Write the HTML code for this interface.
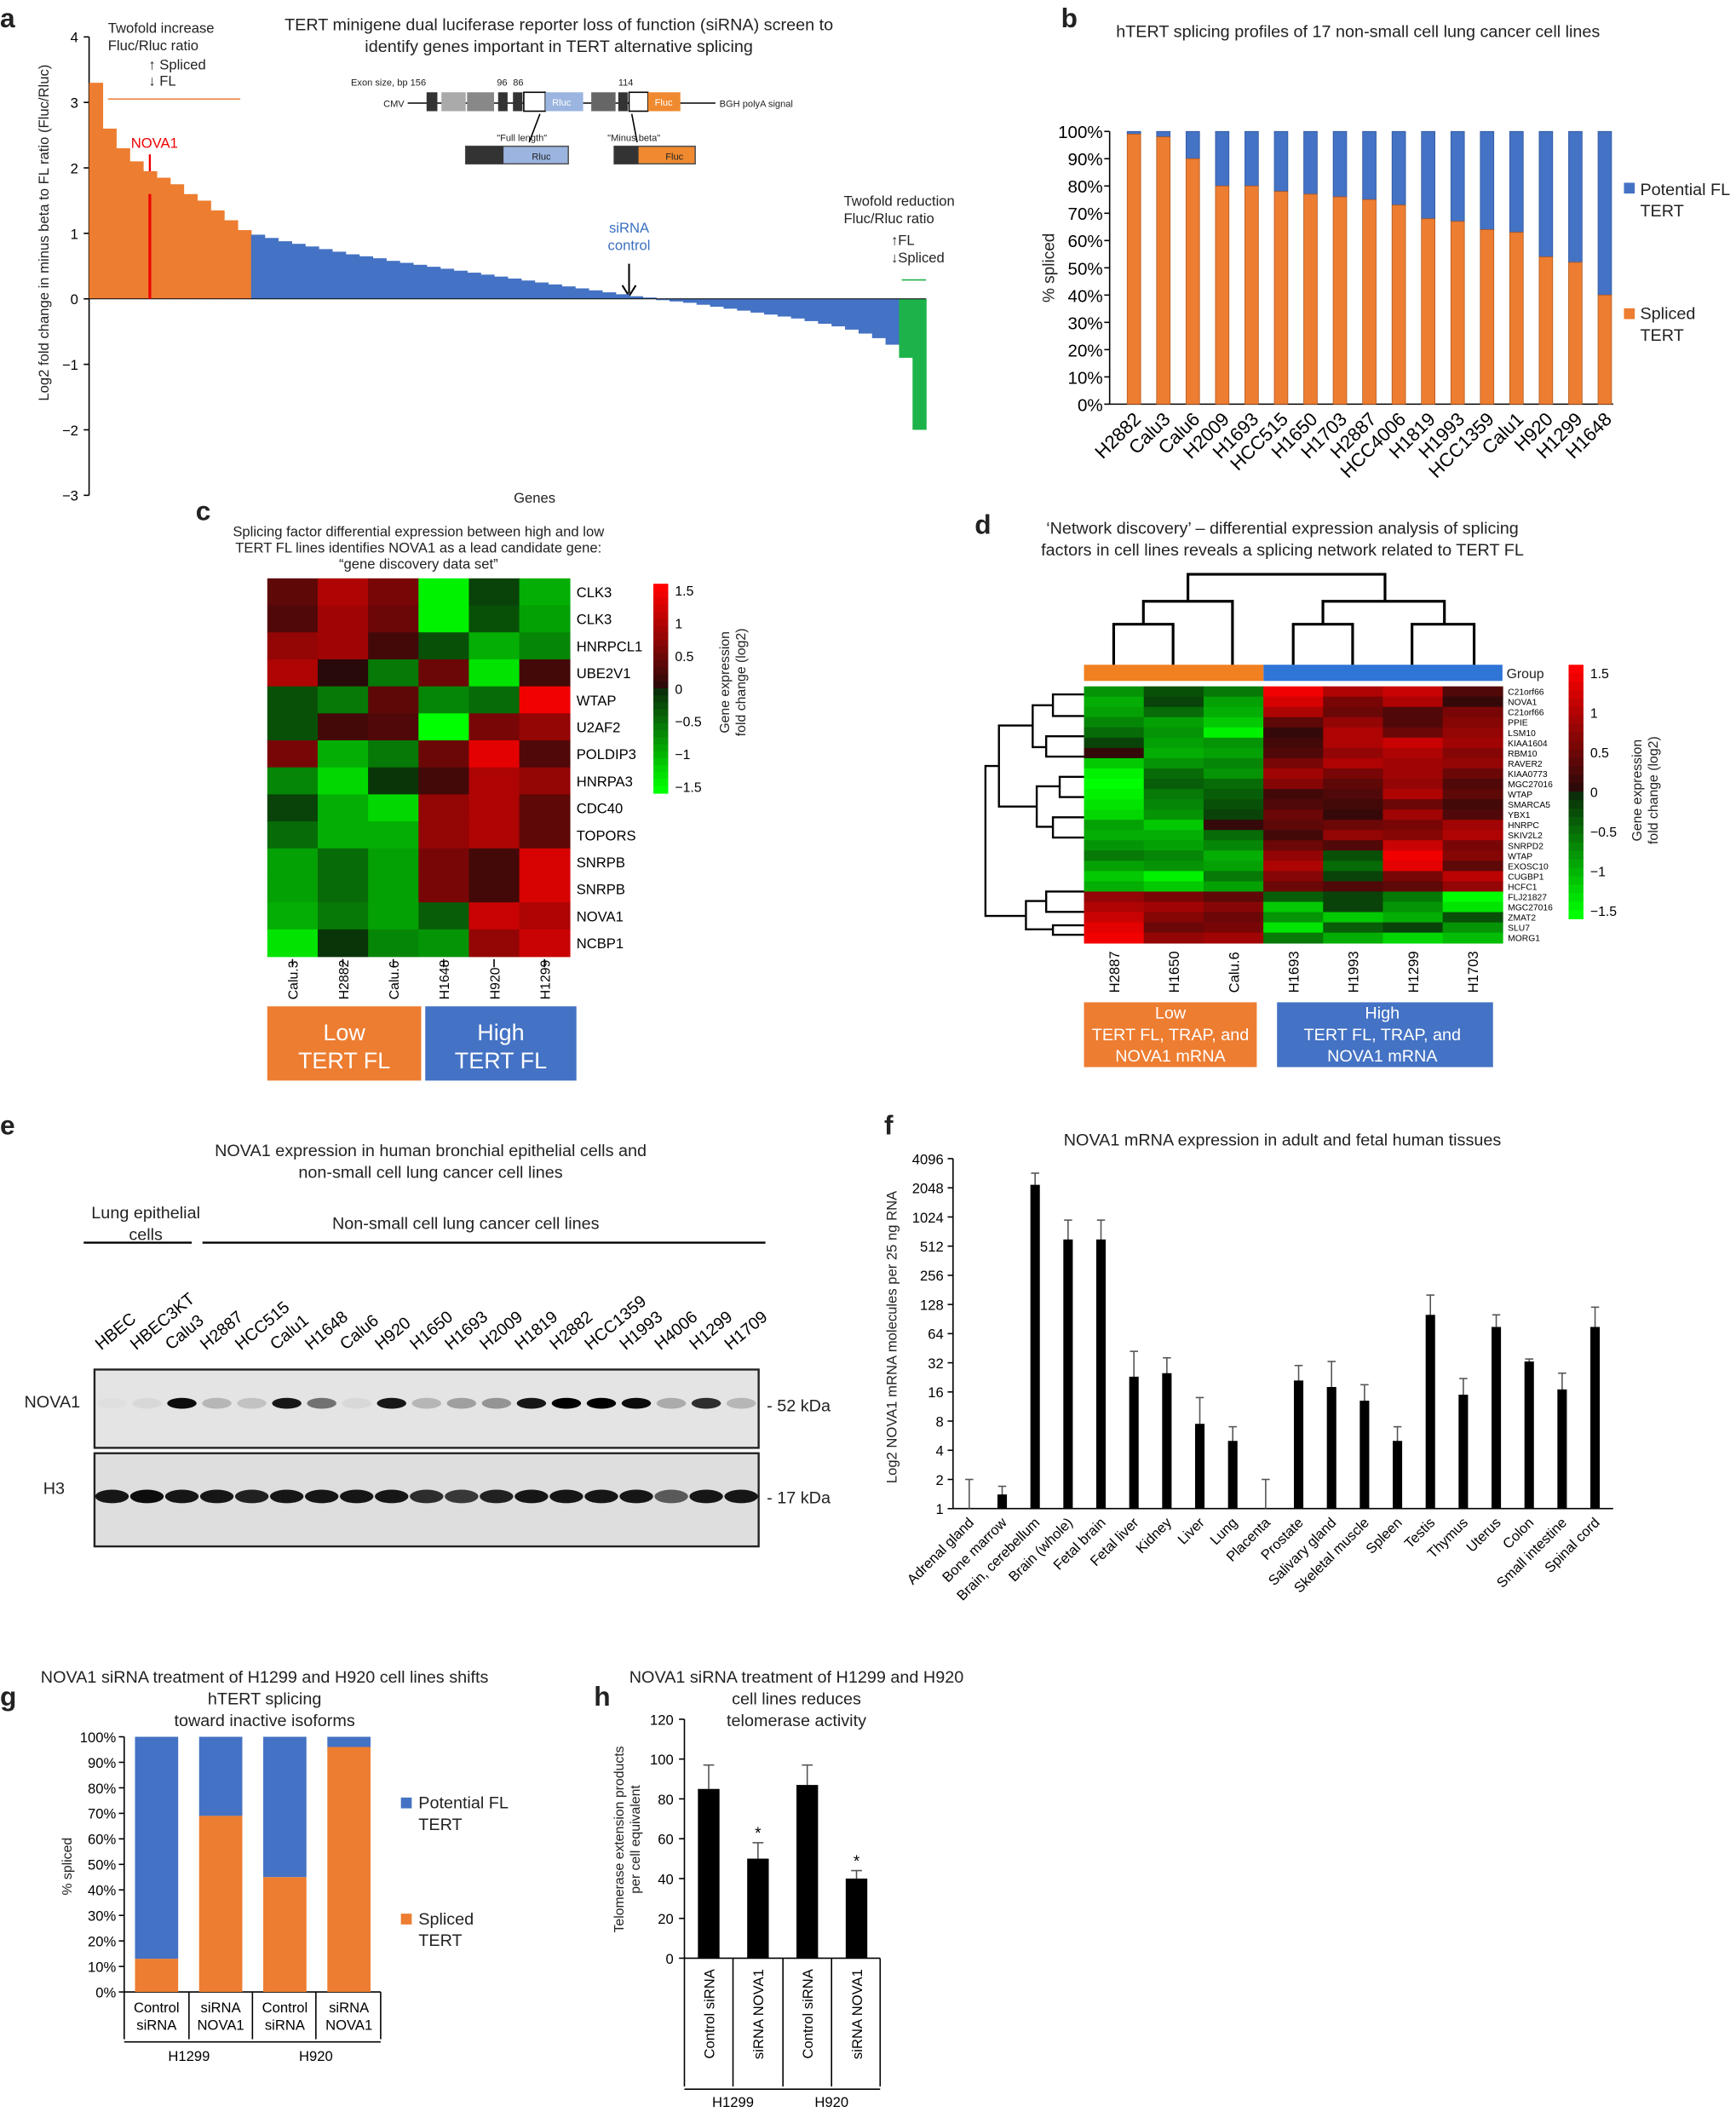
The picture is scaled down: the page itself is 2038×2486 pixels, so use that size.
<!DOCTYPE html>
<html><head><meta charset="utf-8"><style>
html,body{margin:0;padding:0;background:#fff}
svg{display:block;font-family:"Liberation Sans",sans-serif}
</style></head><body>
<svg id="fig" xmlns="http://www.w3.org/2000/svg" width="2038" height="2486" viewBox="0 0 1286 1568">
<rect width="1286" height="1568" fill="#fff"/>
<g id="static" font-size="11" fill="#222">
<text x="0" y="20" font-size="20" font-weight="bold">a</text>
<text x="786" y="20" font-size="20" font-weight="bold">b</text>
<text x="145" y="385" font-size="20" font-weight="bold">c</text>
<text x="722" y="395" font-size="20" font-weight="bold">d</text>
<text x="0" y="840" font-size="20" font-weight="bold">e</text>
<text x="655" y="840" font-size="20" font-weight="bold">f</text>
<text x="0" y="1263" font-size="20" font-weight="bold">g</text>
<text x="440" y="1263" font-size="20" font-weight="bold">h</text>
<text x="414" y="22" text-anchor="middle" font-size="12.5"><tspan x="414">TERT minigene dual luciferase reporter loss of function (siRNA) screen to</tspan><tspan x="414" dy="16">identify genes important in TERT alternative splicing</tspan></text>
<text x="80" y="24" font-size="10.5"><tspan x="80">Twofold increase</tspan><tspan x="80" dy="13">Fluc/Rluc ratio</tspan><tspan x="110" dy="14">↑ Spliced</tspan><tspan x="110" dy="12">↓ FL</tspan></text>
<text x="625" y="152" font-size="10.5"><tspan x="625">Twofold reduction</tspan><tspan x="625" dy="13">Fluc/Rluc ratio</tspan><tspan x="660" dy="16">↑FL</tspan><tspan x="660" dy="13">↓Spliced</tspan></text>
<text x="466" y="172" text-anchor="middle" font-size="10.5" fill="#3a70c0"><tspan x="466">siRNA</tspan><tspan x="466" dy="13">control</tspan></text>
<path d="M466 195 V217" stroke="#000" stroke-width="1.3"/><path d="M461 211 L466 219 L471 211" fill="none" stroke="#000" stroke-width="1.3"/>
<text x="97" y="109" font-size="10.5" fill="#e00">NOVA1</text>
<path d="M111 114 V134" stroke="#e00" stroke-width="1.5"/><path d="M106 128 L111 136 L116 128" fill="none" stroke="#e00" stroke-width="1.5"/>
<text x="396" y="372" text-anchor="middle" font-size="10.5">Genes</text>
<text transform="translate(36,172) rotate(-90)" text-anchor="middle" font-size="10.5">Log2 fold change in minus beta to FL ratio (Fluc/Rluc)</text>
<g font-size="7">
<text x="260" y="63">Exon size, bp 156</text><text x="368" y="63">96</text><text x="380" y="63">86</text><text x="458" y="63">114</text>
<text x="284" y="79">CMV</text><line x1="302" y1="76" x2="530" y2="76" stroke="#000"/>
<rect x="316" y="68" width="8" height="14" fill="#333"/><rect x="327" y="68" width="18" height="14" fill="#aaa"/><rect x="346" y="68" width="20" height="14" fill="#888"/>
<rect x="369" y="68" width="7" height="14" fill="#333"/><rect x="380" y="68" width="7" height="14" fill="#333"/><rect x="388" y="68" width="16" height="14" fill="#fff" stroke="#000"/>
<rect x="404" y="68" width="28" height="14" fill="#9bb5e0"/><text x="409" y="78" fill="#fff">Rluc</text>
<rect x="438" y="68" width="18" height="14" fill="#666"/><rect x="458" y="68" width="7" height="14" fill="#333"/><rect x="466" y="68" width="14" height="14" fill="#fff" stroke="#000"/>
<rect x="480" y="68" width="24" height="14" fill="#f08a30"/><text x="485" y="78" fill="#fff">Fluc</text>
<text x="533" y="79">BGH polyA signal</text>
<text x="368" y="104">"Full length"</text><text x="450" y="104">"Minus beta"</text>
<rect x="345" y="108" width="76" height="13" fill="#9bb5e0" stroke="#555"/><rect x="345" y="108" width="28" height="13" fill="#333"/><text x="394" y="118">Rluc</text>
<rect x="455" y="108" width="60" height="13" fill="#f08a30" stroke="#555"/><rect x="455" y="108" width="18" height="13" fill="#333"/><text x="493" y="118">Fluc</text>
<path d="M400 84 L392 105 M468 84 L472 105" stroke="#000"/>
</g>
<text x="1006" y="27" text-anchor="middle" font-size="12.5">hTERT splicing profiles of 17 non-small cell lung cancer cell lines</text>
<text transform="translate(781,198) rotate(-90)" text-anchor="middle" font-size="12">% spliced</text>
<rect x="1203" y="135" width="8" height="8" fill="#4472c4"/><text x="1215" y="144" font-size="12.5"><tspan x="1215">Potential FL</tspan><tspan x="1215" dy="16">TERT</tspan></text>
<rect x="1203" y="228" width="8" height="8" fill="#ed7d31"/><text x="1215" y="236" font-size="12.5"><tspan x="1215">Spliced</tspan><tspan x="1215" dy="16">TERT</tspan></text>
<text x="310" y="397" text-anchor="middle" font-size="10.5"><tspan x="310">Splicing factor differential expression between high and low</tspan><tspan x="310" dy="12">TERT FL lines identifies NOVA1 as a lead candidate gene:</tspan><tspan x="310" dy="12">“gene discovery data set”</tspan></text>
<rect x="198" y="745" width="114" height="55" fill="#ed7d31"/>
<text x="255" y="770" text-anchor="middle" fill="#fff" font-size="17"><tspan x="255">Low</tspan><tspan x="255" dy="21">TERT FL</tspan></text>
<rect x="315" y="745" width="112" height="55" fill="#4472c4"/>
<text x="371" y="770" text-anchor="middle" fill="#fff" font-size="17"><tspan x="371">High</tspan><tspan x="371" dy="21">TERT FL</tspan></text>
<text transform="translate(540,505) rotate(-90)" text-anchor="middle" font-size="10"><tspan x="0">Gene expression</tspan><tspan x="0" dy="12">fold change (log2)</tspan></text>
<text x="950" y="395" text-anchor="middle" font-size="12.5"><tspan x="950">‘Network discovery’ – differential expression analysis of splicing</tspan><tspan x="950" dy="16">factors in cell lines reveals a splicing network related to TERT FL</tspan></text>
<rect x="803" y="492" width="133" height="12" fill="#f08020"/>
<rect x="936" y="492" width="177" height="12" fill="#2f75d6"/>
<text x="1116" y="502" font-size="10">Group</text>
<path d="M825 492 V462 H869 V492 M847 462 V445 H913 V492 M880 445 V425 H1026 V445 M958 492 V462 H1002 V492 M980 462 V445 H1070 V462 H1046 V492 M1070 462 H1092 V492" fill="none" stroke="#000" stroke-width="2"/>
<path d="M803 514 H780 V530 H803 M803 545 H775 V560 H803 M780 522 H765 V553 H775 M803 575 H785 V590 H803 M803 605 H780 V620 H803 M785 582 H768 V612 H780 M765 537 H740 V597 H768 M803 660 H775 V675 H803 M803 685 H780 V692 H803 M775 667 H760 V688 H780 M740 567 H730 V678 H760" fill="none" stroke="#000" stroke-width="1.5"/>
<rect x="803" y="742" width="128" height="48" fill="#ed7d31"/>
<text x="867" y="754" text-anchor="middle" fill="#fff" font-size="12.5"><tspan x="867">Low</tspan><tspan x="867" dy="16">TERT FL, TRAP, and</tspan><tspan x="867" dy="16">NOVA1 mRNA</tspan></text>
<rect x="946" y="742" width="160" height="48" fill="#4472c4"/>
<text x="1024" y="754" text-anchor="middle" fill="#fff" font-size="12.5"><tspan x="1024">High</tspan><tspan x="1024" dy="16">TERT FL, TRAP, and</tspan><tspan x="1024" dy="16">NOVA1 mRNA</tspan></text>
<text transform="translate(1216,585) rotate(-90)" text-anchor="middle" font-size="10"><tspan x="0">Gene expression</tspan><tspan x="0" dy="12">fold change (log2)</tspan></text>
<text x="319" y="856" text-anchor="middle" font-size="12.5"><tspan x="319">NOVA1 expression in human bronchial epithelial cells and</tspan><tspan x="319" dy="16">non-small cell lung cancer cell lines</tspan></text>
<text x="108" y="902" text-anchor="middle" font-size="12.5"><tspan x="108">Lung epithelial</tspan><tspan x="108" dy="16">cells</tspan></text>
<line x1="62" y1="920" x2="142" y2="920" stroke="#000" stroke-width="1.5"/>
<text x="345" y="910" text-anchor="middle" font-size="12.5">Non-small cell lung cancer cell lines</text>
<line x1="150" y1="920" x2="567" y2="920" stroke="#000" stroke-width="1.5"/>
<text x="18" y="1042" font-size="12.5">NOVA1</text>
<text x="32" y="1106" font-size="12.5">H3</text>
<text x="568" y="1045" font-size="12.5">- 52 kDa</text>
<text x="568" y="1113" font-size="12.5">- 17 kDa</text>
<text x="950" y="848" text-anchor="middle" font-size="12.5">NOVA1 mRNA expression in adult and fetal human tissues</text>
<text transform="translate(664,990) rotate(-90)" text-anchor="middle" font-size="10.5">Log2 NOVA1 mRNA molecules per 25 ng RNA</text>
<text x="196" y="1246" text-anchor="middle" font-size="12.5"><tspan x="196">NOVA1 siRNA treatment of H1299 and H920 cell lines shifts</tspan><tspan x="196" dy="16">hTERT splicing</tspan><tspan x="196" dy="16">toward inactive isoforms</tspan></text>
<text transform="translate(53,1382) rotate(-90)" text-anchor="middle" font-size="10">% spliced</text>
<rect x="297" y="1331" width="8" height="8" fill="#4472c4"/><text x="310" y="1339" font-size="12.5"><tspan x="310">Potential FL</tspan><tspan x="310" dy="16">TERT</tspan></text>
<rect x="297" y="1417" width="8" height="8" fill="#ed7d31"/><text x="310" y="1425" font-size="12.5"><tspan x="310">Spliced</tspan><tspan x="310" dy="16">TERT</tspan></text>
<text x="590" y="1246" text-anchor="middle" font-size="12.5"><tspan x="590">NOVA1 siRNA treatment of H1299 and H920</tspan><tspan x="590" dy="16">cell lines reduces</tspan><tspan x="590" dy="16">telomerase activity</tspan></text>
<text transform="translate(462,1362) rotate(-90)" text-anchor="middle" font-size="10"><tspan x="0">Telomerase extension products</tspan><tspan x="0" dy="12">per cell equivalent</tspan></text>
</g>
<g id="dyn"></g>
</svg>
<script>
// ---- data ----
const aValues=[3.3,2.6,2.3,2.1,1.95,1.85,1.75,1.6,1.5,1.35,1.2,1.05,0.98,0.93,0.88,0.84,0.8,0.76,0.72,0.68,0.65,0.62,0.58,0.55,0.52,0.49,0.46,0.43,0.40,0.37,0.34,0.31,0.28,0.25,0.22,0.19,0.16,0.13,0.10,0.07,0.04,0.02,-0.02,-0.04,-0.06,-0.09,-0.12,-0.15,-0.18,-0.21,-0.24,-0.27,-0.3,-0.34,-0.38,-0.42,-0.47,-0.53,-0.6,-0.7,-0.9,-2.0];
const aTicks=[4,3,2,1,0,-1,-2,-3];
const bLines=["H2882","Calu3","Calu6","H2009","H1693","HCC515","H1650","H1703","H2887","HCC4006","H1819","H1993","HCC1359","Calu1","H920","H1299","H1648"];
const bSpliced=[99,98,90,80,80,78,77,76,75,73,68,67,64,63,54,52,40];
const pctTicks=["0%","10%","20%","30%","40%","50%","60%","70%","80%","90%","100%"];
const cGenes=["CLK3","CLK3","HNRPCL1","UBE2V1","WTAP","U2AF2","POLDIP3","HNRPA3","CDC40","TOPORS","SNRPB","SNRPB","NOVA1","NCBP1"];
const cLines=["Calu.3","H2882","Calu.6","H1648","H920","H1299"];
const cValues=[[0.4,1.0,0.6,-1.5,-0.2,-1.0],[0.3,0.9,0.5,-1.5,-0.3,-0.9],[0.8,0.9,0.2,-0.3,-1.0,-0.7],[1.0,0,-0.6,0.5,-1.4,0.2],[-0.3,-0.6,0.4,-0.7,-0.5,1.5],[-0.3,0.2,0.3,-1.6,0.6,0.8],[0.6,-1.0,-0.6,0.5,1.4,0.3],[-0.7,-1.3,-0.1,0.2,1.0,0.8],[-0.2,-1.0,-1.3,0.8,1.0,0.4],[-0.5,-1.0,-1.0,0.8,1.0,0.4],[-0.9,-0.5,-0.9,0.6,0.2,1.3],[-0.9,-0.5,-0.9,0.6,0.2,1.3],[-1.0,-0.6,-0.9,-0.4,1.2,1.0],[-1.4,-0.1,-0.7,-0.8,0.8,1.2]];
const cbTicks=[1.5,1,0.5,0,-0.5,-1,-1.5];
const dGenes=["C21orf66","NOVA1","C21orf66","PPIE","LSM10","KIAA1604","RBM10","RAVER2","KIAA0773","MGC27016","WTAP","SMARCA5","YBX1","HNRPC","SKIV2L2","SNRPD2","WTAP","EXOSC10","CUGBP1","HCFC1","FLJ21827","MGC27016","ZMAT2","SLU7","MORG1"];
const dLines=["H2887","H1650","Calu.6","H1693","H1993","H1299","H1703"];
const dValues=[[-0.8,-0.3,-0.6,1.5,1.0,1.2,0.3],[-1.0,-0.2,-0.9,1.3,0.6,1.0,0.1],[-0.9,-0.5,-1.0,1.0,0.5,0.3,0.6],[-0.7,-0.9,-1.2,0.4,0.8,0.3,0.7],[-0.5,-0.8,-1.5,0.1,1.0,0.5,0.8],[-0.2,-0.9,-0.8,0.2,1.0,1.2,0.9],[0.1,-1.0,-0.9,0.3,0.8,1.0,0.7],[-1.2,-0.8,-0.7,0.6,1.0,0.9,0.8],[-1.5,-0.5,-0.8,0.9,0.6,0.9,0.5],[-1.6,-0.4,-0.5,0.7,0.4,0.8,0.3],[-1.5,-0.6,-0.4,0.2,0.3,1.0,0.4],[-1.4,-0.7,-0.3,0.3,0.2,0.5,0.2],[-1.3,-0.8,-0.2,0.5,0.1,0.9,0.3],[-0.9,-1.2,0.1,0.4,0.5,0.6,0.9],[-1.0,-1.0,-0.5,0.2,0.8,0.7,1.0],[-0.8,-0.9,-0.7,0.5,0.3,1.2,0.6],[-0.6,-0.7,-1.0,0.8,-0.3,1.5,0.7],[-0.9,-0.8,-0.9,1.0,-0.5,1.4,0.4],[-1.2,-1.5,-0.6,0.7,-0.2,0.6,1.1],[-1.0,-1.2,-0.9,0.5,0.3,0.4,0.8],[0.8,0.6,0.4,-0.4,-0.2,-0.6,-1.6],[1.0,0.9,0.7,-1.2,-0.2,-0.8,-1.4],[1.2,0.7,0.5,-0.8,-1.2,-1.0,-0.3],[1.4,0.5,0.6,-1.4,-0.4,-0.2,-0.8],[1.5,0.8,0.9,-0.6,-1.0,-1.3,-1.1]];
const eLanes=["HBEC","HBEC3KT","Calu3","H2887","HCC515","Calu1","H1648","Calu6","H920","H1650","H1693","H2009","H1819","H2882","HCC1359","H1993","H4006","H1299","H1709"];
const eNova1=[0.02,0.05,0.95,0.2,0.15,0.9,0.5,0.05,0.9,0.2,0.3,0.35,0.9,1,1,0.95,0.25,0.8,0.2];
const eH3=[0.9,0.95,0.9,0.9,0.85,0.9,0.9,0.9,0.9,0.8,0.75,0.85,0.9,0.9,0.9,0.9,0.6,0.9,0.9];
const fTissues=["Adrenal gland","Bone marrow","Brain, cerebellum","Brain (whole)","Fetal brain","Fetal liver","Kidney","Liver","Lung","Placenta","Prostate","Salivary gland","Skeletal muscle","Spleen","Testis","Thymus","Uterus","Colon","Small intestine","Spinal cord"];
const fValues=[1,1.4,2200,600,600,23,25,7.5,5,1,21,18,13,5,100,15,75,33,17,75];
const fErrHigh=[2,1.7,2900,950,950,42,36,14,7,2,30,33,19,7,160,22,100,35,25,120];
const fTicks=[1,2,4,8,16,32,64,128,256,512,1024,2048,4096];
const gLabels=[["Control","siRNA"],["siRNA","NOVA1"],["Control","siRNA"],["siRNA","NOVA1"]];
const gSpliced=[13,69,45,96];
const hLabels=["Control siRNA","siRNA NOVA1","Control siRNA","siRNA NOVA1"];
const hValues=[85,50,87,40];
const hErr=[12,8,10,4];
const hSig=[false,true,false,true];
const hTicks=[0,20,40,60,80,100,120];

const NS="http://www.w3.org/2000/svg";
const root=document.getElementById('dyn');
function E(tag,attrs,parent){const el=document.createElementNS(NS,tag);for(const k in attrs)el.setAttribute(k,attrs[k]);(parent||root).appendChild(el);return el;}
function heat(v){const t=Math.max(-1,Math.min(1,v/1.6));if(t>=0)return `rgb(${Math.round(40+215*t)},${Math.round(10*(1-t))},${Math.round(10*(1-t))})`;return `rgb(${Math.round(10*(1+t))},${Math.round(40-215*t)},${Math.round(10*(1+t))})`;}
let el;

// ---- panel a ----
const aY=v=>221-v*48.5, aX0=66, aBW=620/aValues.length;
el=E('line',{x1:66,y1:aY(4),x2:66,y2:aY(-3),stroke:'#000'});


aTicks.forEach(t=>{E('line',{x1:62,y1:aY(t),x2:66,y2:aY(t),stroke:'#000'});
 el=E('text',{x:58,y:aY(t)+4,'text-anchor':'end','font-size':10.5});el.textContent=(t<0?'−'+(-t):t);
 
 });
aValues.forEach((v,i)=>{const c=v>1?'#ed7d31':(v<-0.8?'#1db34a':'#4472c4');
 el=E('rect',{x:aX0+i*aBW,y:Math.min(aY(v),aY(0)),width:aBW+0.4,height:Math.abs(aY(v)-aY(0)),fill:c});
 
 });
E('line',{x1:66,y1:aY(0),x2:686,y2:aY(0),stroke:'#000','stroke-width':0.6});
el=E('line',{x1:111,y1:aY(0),x2:111,y2:aY(1.6),stroke:'#e00','stroke-width':2});


E('line',{x1:80,y1:73,x2:178,y2:73,stroke:'#ed7d31'});
E('line',{x1:668,y1:207,x2:686,y2:207,stroke:'#1db34a'});

// ---- panel b ----
const bY=p=>299-p*2.02, bX=i=>840+i*21.8;
E('line',{x1:822,y1:bY(0),x2:822,y2:bY(100),stroke:'#000'});
E('line',{x1:822,y1:bY(0),x2:1195,y2:bY(0),stroke:'#000'});
pctTicks.forEach((t,i)=>{E('line',{x1:818,y1:bY(i*10),x2:822,y2:bY(i*10),stroke:'#000'});
 el=E('text',{x:817,y:bY(i*10)+5,'text-anchor':'end','font-size':13});el.textContent=t;
 
 });
bLines.forEach((n,i)=>{const x=bX(i);
 el=E('rect',{x:x-5,y:bY(100),width:10,height:bY(bSpliced[i])-bY(100),fill:'#4472c4',stroke:'#2e55a0','stroke-width':0.5});
 
 
 el=E('rect',{x:x-5,y:bY(bSpliced[i]),width:10,height:bY(0)-bY(bSpliced[i]),fill:'#ed7d31',stroke:'#b0581e','stroke-width':0.5});
 
 
 el=E('text',{transform:`translate(${x+6},${bY(0)+12}) rotate(-45)`,'text-anchor':'end','font-size':14});el.textContent=n;
 
 });

// ---- panel c heatmap ----
const cX0=198,cY0=428,cW=224/6,cH=280/14;
cValues.forEach((row,r)=>row.forEach((v,c)=>{el=E('rect',{x:cX0+c*cW,y:cY0+r*cH,width:cW+0.5,height:cH+0.5,fill:heat(v)});
 
 }));
cGenes.forEach((g,r)=>{el=E('text',{x:427,y:cY0+r*cH+cH/2+4,'font-size':10.5});el.textContent=g;
 
 });
cLines.forEach((n,c)=>{const x=cX0+c*cW+cW/2;E('line',{x1:x,y1:710,x2:x,y2:716,stroke:'#000'});
 el=E('text',{transform:`translate(${x+4},740) rotate(-90)`,'font-size':10});el.textContent=n;
 
 });
function colorbar(x,y,h,name){const n=30;for(let i=0;i<n;i++){E('rect',{x:x,y:y+i*h/n,width:11,height:h/n+0.5,fill:heat(1.6-3.2*i/(n-1))});}
 cbTicks.forEach(t=>{el=E('text',{x:x+16,y:y+(1.6-t)/3.2*h+4,'font-size':10});el.textContent=(t<0?'−'+(-t):t);
 
 });}
colorbar(484,432,155,'colorbar-c');

// ---- panel d heatmap ----
const dX0=803,dY0=508,dW=310/7,dH=190/dGenes.length;
dValues.forEach((row,r)=>row.forEach((v,c)=>{el=E('rect',{x:dX0+c*dW,y:dY0+r*dH,width:dW+0.5,height:dH+0.5,fill:heat(v)});
 
 }));
dGenes.forEach((g,r)=>{el=E('text',{x:1117,y:dY0+r*dH+dH/2+2.5,'font-size':6.5});el.textContent=g;
 
 });
dLines.forEach((n,c)=>{const x=dX0+c*dW+dW/2;
 el=E('text',{transform:`translate(${x+4},735) rotate(-90)`,'font-size':10.5});el.textContent=n;
 
 });
colorbar(1162,492,188,'colorbar-d');

// ---- panel e blot ----
const eX0=70,eW=492/eLanes.length;
el=E('rect',{x:70,y:1014,width:492,height:58,fill:'#e4e4e4',stroke:'#222','stroke-width':1.5});


el=E('rect',{x:70,y:1076,width:492,height:69,fill:'#dedede',stroke:'#222','stroke-width':1.5});


eLanes.forEach((n,i)=>{const x=eX0+i*eW+eW/2;
 el=E('ellipse',{cx:x,cy:1039,rx:eW*0.42,ry:4,fill:'#000',opacity:eNova1[i]});
 
 
 el=E('ellipse',{cx:x,cy:1108,rx:eW*0.48,ry:5,fill:'#000',opacity:eH3[i]});
 
 
 el=E('text',{transform:`translate(${x-8},${1000}) rotate(-40)`,'font-size':12.5});el.textContent=n;
 
 });

// ---- panel f ----
const fY=v=>1117-Math.log2(Math.max(v,1))*21.6, fX=i=>718+i*24.4;
E('line',{x1:706,y1:fY(4096),x2:706,y2:1117,stroke:'#000'});
E('line',{x1:706,y1:1117,x2:1195,y2:1117,stroke:'#000'});
fTicks.forEach(t=>{E('line',{x1:702,y1:fY(t),x2:706,y2:fY(t),stroke:'#000'});
 el=E('text',{x:699,y:fY(t)+4,'text-anchor':'end','font-size':10.5});el.textContent=t;
 
 });
fTissues.forEach((n,i)=>{const x=fX(i),v=fValues[i],h=fErrHigh[i];
 const lo=Math.max(1,v*v/h);
 el=E('line',{x1:x,y1:fY(h),x2:x,y2:fY(lo),stroke:'#555','stroke-width':1});
 
 
 E('line',{x1:x-3,y1:fY(h),x2:x+3,y2:fY(h),stroke:'#555'});
 el=E('rect',{x:x-3.5,y:fY(v),width:7,height:1117-fY(v),fill:'#000'});
 
 
 el=E('text',{transform:`translate(${x+4},${1128}) rotate(-45)`,'text-anchor':'end','font-size':10.5});el.textContent=n;
 
 });

// ---- panel g ----
const gY=p=>1475-p*1.89, gX=i=>116+i*47.5;
E('line',{x1:92,y1:gY(0),x2:92,y2:gY(100),stroke:'#000'});
E('line',{x1:92,y1:gY(0),x2:282,y2:gY(0),stroke:'#000'});
pctTicks.forEach((t,i)=>{E('line',{x1:88,y1:gY(i*10),x2:92,y2:gY(i*10),stroke:'#000'});
 el=E('text',{x:86,y:gY(i*10)+4,'text-anchor':'end','font-size':10.5});el.textContent=t;
 
 });
gSpliced.forEach((s,i)=>{const x=gX(i);
 el=E('rect',{x:x-16,y:gY(100),width:32,height:gY(s)-gY(100),fill:'#4472c4'});
 
 
 el=E('rect',{x:x-16,y:gY(s),width:32,height:gY(0)-gY(s),fill:'#ed7d31'});
 
 
 el=E('text',{x:x,y:1490,'text-anchor':'middle','font-size':10.5});el.innerHTML=`<tspan x="${x}">${gLabels[i][0]}</tspan><tspan x="${x}" dy="13">${gLabels[i][1]}</tspan>`;
 
 });
[92,140,187,234,282].forEach(x=>E('line',{x1:x,y1:1475,x2:x,y2:1510,stroke:'#000'}));
E('line',{x1:92,y1:1512,x2:282,y2:1512,stroke:'#000'});
el=E('text',{x:140,y:1526,'text-anchor':'middle','font-size':10.5});el.textContent='H1299';


el=E('text',{x:234,y:1526,'text-anchor':'middle','font-size':10.5});el.textContent='H920';



// ---- panel h ----
const hY=v=>1450-v*1.475, hX=i=>525+i*36.5;
E('line',{x1:507,y1:hY(0),x2:507,y2:hY(120),stroke:'#000'});
E('line',{x1:507,y1:hY(0),x2:652,y2:hY(0),stroke:'#000'});
hTicks.forEach(t=>{E('line',{x1:503,y1:hY(t),x2:507,y2:hY(t),stroke:'#000'});
 el=E('text',{x:499,y:hY(t)+4,'text-anchor':'end','font-size':10.5});el.textContent=t;
 
 });
hValues.forEach((v,i)=>{const x=hX(i);
 el=E('line',{x1:x,y1:hY(v+hErr[i]),x2:x,y2:hY(v),stroke:'#555'});
 
 
 E('line',{x1:x-4,y1:hY(v+hErr[i]),x2:x+4,y2:hY(v+hErr[i]),stroke:'#555'});
 el=E('rect',{x:x-8,y:hY(v),width:16,height:hY(0)-hY(v),fill:'#000'});
 
 
 if(hSig[i]){el=E('text',{x:x,y:hY(v+hErr[i])-3,'text-anchor':'middle','font-size':12});el.textContent='*';
 
 }
 el=E('text',{transform:`translate(${x+4},1458) rotate(-90)`,'text-anchor':'end','font-size':10.5});el.textContent=hLabels[i];
 
 });
[507,543,580,616,652].forEach(x=>E('line',{x1:x,y1:1450,x2:x,y2:1545,stroke:'#000'}));
E('line',{x1:507,y1:1547,x2:652,y2:1547,stroke:'#000'});
el=E('text',{x:543,y:1560,'text-anchor':'middle','font-size':10.5});el.textContent='H1299';


el=E('text',{x:616,y:1560,'text-anchor':'middle','font-size':10.5});el.textContent='H920';


</script>
</body></html>
